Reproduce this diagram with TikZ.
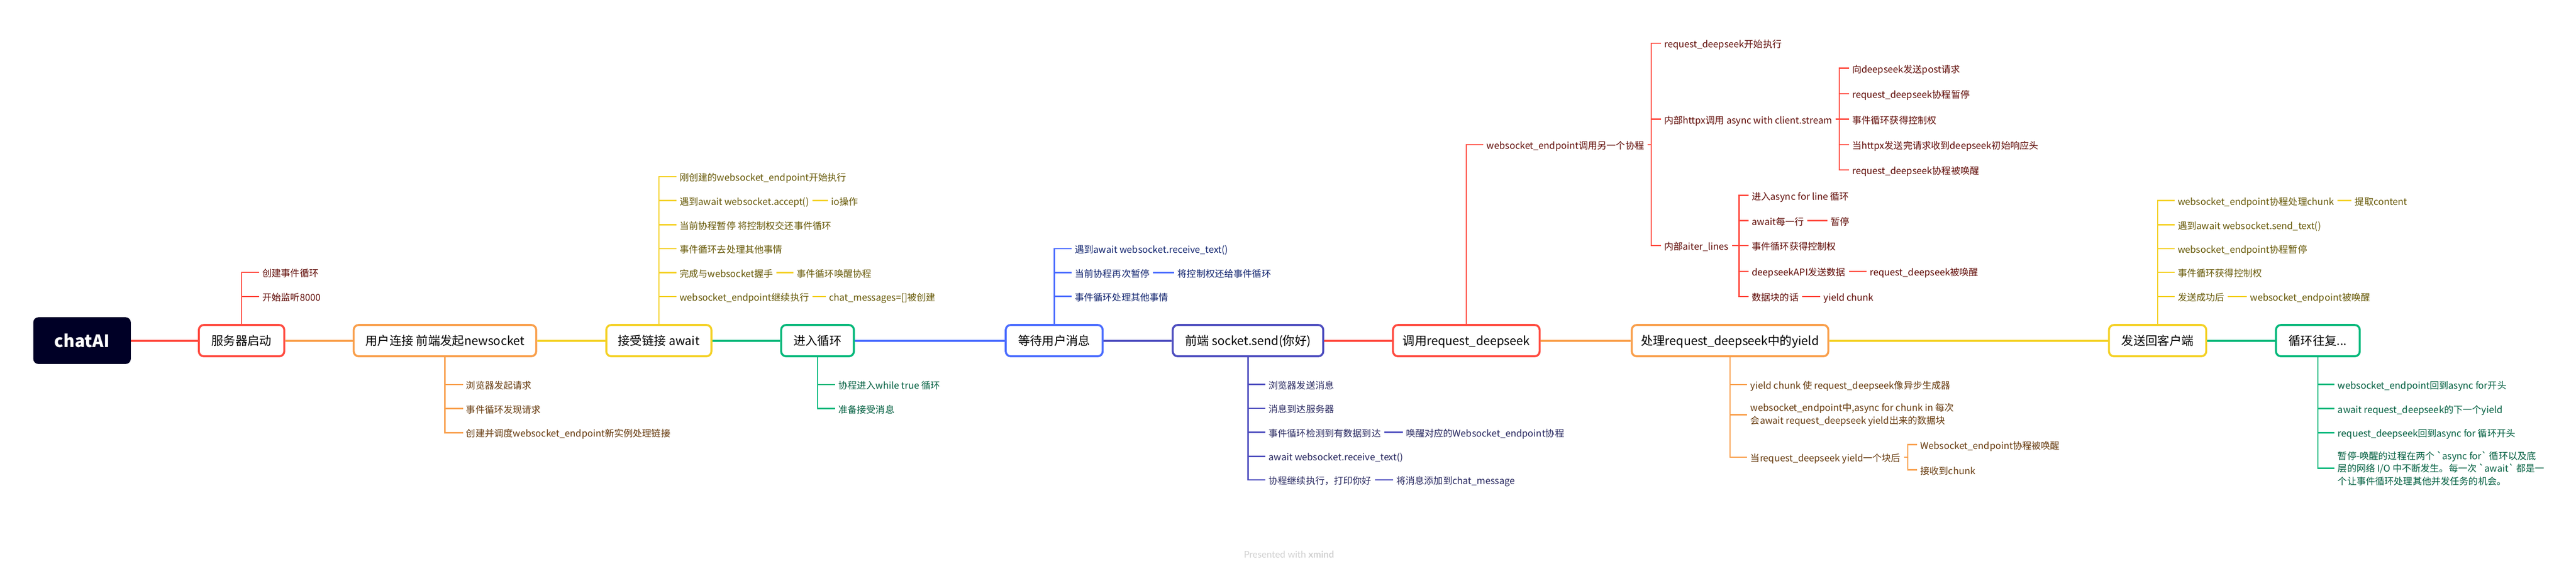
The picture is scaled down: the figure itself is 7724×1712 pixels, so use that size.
\documentclass[tikz,border=0pt]{standalone}
\usepackage{fontspec}
\setmainfont{Noto Sans CJK SC}[Ligatures=TeXOff]
\newfontfamily\creditfont{Lato}
\usetikzlibrary{positioning}
\definecolor{cred}{HTML}{FF4A3F}
\definecolor{corange}{HTML}{F99F4B}
\definecolor{cyellow}{HTML}{F4D125}
\definecolor{cgreen}{HTML}{00B87A}
\definecolor{cblue}{HTML}{4A6CFF}
\definecolor{cindigo}{HTML}{4D4DBF}
\definecolor{dred}{HTML}{5F0A05}
\definecolor{dorange}{HTML}{663A0D}
\definecolor{dyellow}{HTML}{665806}
\definecolor{dgreen}{HTML}{005E3F}
\definecolor{dblue}{HTML}{10236E}
\definecolor{dindigo}{HTML}{27275F}
\tikzset{
  rootbox/.style={fill=black!0!blue!15!black,rounded corners=0.15cm,minimum width=2.92cm,minimum height=1.4cm,
    outer sep=0pt,inner sep=0pt,text=white,font=\fontsize{14.5}{18}\selectfont\bfseries},
  topic/.style={draw=#1,fill=white,line width=0.06cm,rounded corners=0.15cm,minimum height=0.94cm,
    inner sep=0pt,text height=0.29cm,text depth=0cm,font=\fontsize{10.24}{12}\selectfont},
  note/.style={anchor=west,text=#1,inner xsep=0.1cm,inner ysep=0pt,outer sep=0pt,align=left,
    font=\fontsize{7.97}{10.8}\selectfont},
  leaf/.style={note=#1,text height=0.27cm,text depth=0cm},
  trunk/.style={color=#1,line width=0.06cm},
  twig/.style={color=#1,line width=0.04cm},
  elbow/.style={to path={|- (\tikztotarget.west)}}
}
\begin{document}
\begin{tikzpicture}[x=0.01cm,y=-0.01cm]
\useasboundingbox (0,0) rectangle (7724,1712);

\node[rootbox] (root) at (246,1022) {chatAI};
\node[topic=cred,minimum width=2.56cm] (n1) [right=2.01cm of root] {服务器启动};
\node[topic=corange,minimum width=5.47cm] (n2) [right=2.02cm of n1] {用户连接 前端发起newsocket};
\node[topic=cyellow,minimum width=3.15cm] (n3) [right=2.04cm of n2] {接受链接 await};
\node[topic=cgreen,minimum width=2.18cm] (n4) [right=2.03cm of n3] {进入循环};
\node[topic=cblue,minimum width=2.905cm] (n5) [right=4.49cm of n4] {等待用户消息};
\node[topic=cindigo,minimum width=4.51cm] (n6) [right=2.04cm of n5] {前端 socket.send(你好)};
\node[topic=cred,minimum width=4.395cm] (n7) [right=2.03cm of n6] {调用request\_deepseek};
\node[topic=corange,minimum width=5.89cm] (n8) [right=2.7cm of n7] {处理request\_deepseek中的yield};
\node[topic=cyellow,minimum width=2.915cm] (n9) [right=8.35cm of n8] {发送回客户端};
\node[topic=cgreen,minimum width=2.51cm] (n10) [right=2.03cm of n9] {循环往复...};

% server start
\node[leaf=dred] (n1a) at (777,817) {创建事件循环};
\node[leaf=dred] (n1b) at (777,890) {开始监听8000};

% user connect
\node[leaf=dorange] (n2a) at (1388,1154) {浏览器发起请求};
\node[leaf=dorange] (n2b) at (1388,1226) {事件循环发现请求};
\node[leaf=dorange] (n2c) at (1388,1298) {创建并调度websocket\_endpoint新实例处理链接};

% accept
\node[leaf=dyellow] (n3a) at (2028,530) {刚创建的websocket\_endpoint开始执行};
\node[leaf=dyellow] (n3b) at (2028,602) {遇到await websocket.accept()};
\node[leaf=dyellow] (n3c) at (2028,674) {当前协程暂停 将控制权交还事件循环};
\node[leaf=dyellow] (n3d) at (2028,746) {事件循环去处理其他事情};
\node[leaf=dyellow] (n3e) at (2028,818) {完成与websocket握手};
\node[leaf=dyellow] (n3f) at (2028,890) {websocket\_endpoint继续执行};
\node[leaf=dyellow] (n3b1) at (2483,602) {io操作};
\node[leaf=dyellow] (n3e1) at (2379,818) {事件循环唤醒协程};
\node[leaf=dyellow] (n3f1) at (2476,890) {chat\_messages=[]被创建};

% loop enter
\node[leaf=dgreen] (n4a) at (2504,1154) {协程进入while true 循环};
\node[leaf=dgreen] (n4b) at (2504,1226) {准备接受消息};

% waiting
\node[leaf=dblue] (n5a) at (3213,746) {遇到await websocket.receive\_text()};
\node[leaf=dblue] (n5b) at (3213,818) {当前协程再次暂停};
\node[leaf=dblue] (n5c) at (3213,889) {事件循环处理其他事情};
\node[leaf=dblue] (n5b1) at (3521,818) {将控制权还给事件循环};

% send
\node[leaf=dindigo] (n6a) at (3794,1153) {浏览器发送消息};
\node[leaf=dindigo] (n6b) at (3794,1225) {消息到达服务器};
\node[leaf=dindigo] (n6c) at (3794,1297) {事件循环检测到有数据到达};
\node[leaf=dindigo] (n6d) at (3794,1369) {await websocket.receive\_text()};
\node[leaf=dindigo] (n6e) at (3794,1440) {协程继续执行，打印你好};
\node[leaf=dindigo] (n6c1) at (4206,1297) {唤醒对应的Websocket\_endpoint协程};
\node[leaf=dindigo] (n6e1) at (4177,1440) {将消息添加到chat\_message};

% request
\node[leaf=dred] (n7a) at (4448,434) {websocket\_endpoint调用另一个协程};
\coordinate (n7hub) at (4951,434);
\node[leaf=dred] (n7a1) at (4980,130) {request\_deepseek开始执行};
\node[leaf=dred] (n7a2) at (4980,358) {内部httpx调用 async with client.stream};
\node[leaf=dred] (n7a3) at (4980,737) {内部aiter\_lines};
\coordinate (n7hub2) at (5515,358);
\node[leaf=dred] (n7b1) at (5544,205) {向deepseek发送post请求};
\node[leaf=dred] (n7b2) at (5544,281) {request\_deepseek协程暂停};
\node[leaf=dred] (n7b3) at (5544,358) {事件循环获得控制权};
\node[leaf=dred] (n7b4) at (5544,434) {当httpx发送完请求收到deepseek初始响应头};
\node[leaf=dred] (n7b5) at (5544,510) {request\_deepseek协程被唤醒};
\coordinate (n7hub3) at (5214,737);
\node[leaf=dred] (n7c1) at (5243,586) {进入async for line 循环};
\node[leaf=dred] (n7c2) at (5243,662) {await每一行};
\node[leaf=dred] (n7c3) at (5243,737) {事件循环获得控制权};
\node[leaf=dred] (n7c4) at (5243,814) {deepseekAPI发送数据};
\node[leaf=dred] (n7c5) at (5243,890) {数据块的话};
\node[leaf=dred] (n7c2a) at (5479,662) {暂停};
\node[leaf=dred] (n7c4a) at (5597,814) {request\_deepseek被唤醒};
\node[leaf=dred] (n7c5a) at (5458,890) {yield chunk};

% yield
\node[leaf=dorange] (n8a) at (5239,1154) {yield chunk 使 request\_deepseek像异步生成器};
\node[note=dorange] (n8b) at (5239,1244) {websocket\_endpoint中,async for chunk in 每次\\会await request\_deepseek yield出来的数据块};
\node[leaf=dorange] (n8c) at (5239,1372) {当request\_deepseek yield一个块后};
\coordinate (n8hub) at (5720,1372);
\node[leaf=dorange] (n8c1) at (5748,1334) {Websocket\_endpoint协程被唤醒};
\node[leaf=dorange] (n8c2) at (5748,1410) {接收到chunk};

% send back
\node[leaf=dyellow] (n9a) at (6520,602) {websocket\_endpoint协程处理chunk};
\node[leaf=dyellow] (n9b) at (6520,674) {遇到await websocket.send\_text()};
\node[leaf=dyellow] (n9c) at (6520,746) {websocket\_endpoint协程暂停};
\node[leaf=dyellow] (n9d) at (6520,817) {事件循环获得控制权};
\node[leaf=dyellow] (n9e) at (6520,890) {发送成功后};
\node[leaf=dyellow] (n9a1) at (7051,602) {提取content};
\node[leaf=dyellow] (n9e1) at (6737,890) {websocket\_endpoint被唤醒};

% again
\node[leaf=dgreen] (n10a) at (7000,1153) {websocket\_endpoint回到async for开头};
\node[leaf=dgreen] (n10b) at (7000,1226) {await request\_deepseek的下一个yield};
\node[leaf=dgreen] (n10c) at (7000,1298) {request\_deepseek回到async for 循环开头};
\node[note=dgreen] (n10d) at (7000,1405) {暂停-唤醒的过程在两个 `async for` 循环以及底\\层的网络 I/O 中不断发生。每一次 `await` 都是一\\个让事件循环处理其他并发任务的机会。};

\node[text=black!18,font=\creditfont\fontsize{8}{10}\selectfont] (mark) at (3865,1663) {Presented with \textbf{xmind}};

\path[trunk=cred] (root) edge (n1);
\path[trunk=corange] (n1) edge (n2);
\path[trunk=cyellow] (n2) edge (n3);
\path[trunk=cgreen] (n3) edge (n4);
\path[trunk=cblue] (n4) edge (n5);
\path[trunk=cindigo] (n5) edge (n6);
\path[trunk=cred] (n6) edge (n7);
\path[trunk=corange] (n7) edge (n8);
\path[trunk=cyellow] (n8) edge (n9);
\path[trunk=cgreen] (n9) edge (n10);

\path[twig=cred]
(n1.north) edge[elbow] (n1a)
           edge[elbow] (n1b);
\path[twig=corange]
(n2.south) edge[elbow] (n2a)
           edge[elbow] (n2b)
           edge[elbow] (n2c);
\path[twig=cyellow]
(n3.north) edge[elbow] (n3a)
           edge[elbow] (n3b)
           edge[elbow] (n3c)
           edge[elbow] (n3d)
           edge[elbow] (n3e)
           edge[elbow] (n3f)
(n3b) edge (n3b1)
(n3e) edge (n3e1)
(n3f) edge (n3f1);
\path[twig=cgreen]
(n4.south) edge[elbow] (n4a)
           edge[elbow] (n4b);
\path[twig=cblue]
(n5.north) edge[elbow] (n5a)
           edge[elbow] (n5b)
           edge[elbow] (n5c)
(n5b) edge (n5b1);
\path[twig=cindigo]
(n6.south) edge[elbow] (n6a)
           edge[elbow] (n6b)
           edge[elbow] (n6c)
           edge[elbow] (n6d)
           edge[elbow] (n6e)
(n6c) edge (n6c1)
(n6e) edge (n6e1);
\path[twig=cred]
(n7.north) edge[elbow] (n7a)
(n7a) edge (n7hub)
(n7hub) edge[elbow] (n7a1)
        edge[elbow] (n7a2)
        edge[elbow] (n7a3)
(n7a2) edge (n7hub2)
(n7hub2) edge[elbow] (n7b1)
         edge[elbow] (n7b2)
         edge[elbow] (n7b3)
         edge[elbow] (n7b4)
         edge[elbow] (n7b5)
(n7a3) edge (n7hub3)
(n7hub3) edge[elbow] (n7c1)
         edge[elbow] (n7c2)
         edge[elbow] (n7c3)
         edge[elbow] (n7c4)
         edge[elbow] (n7c5)
(n7c2) edge (n7c2a)
(n7c4) edge (n7c4a)
(n7c5) edge (n7c5a);
\path[twig=corange]
(n8.south) edge[elbow] (n8a)
           edge[elbow] (n8b)
           edge[elbow] (n8c)
(n8c) edge (n8hub)
(n8hub) edge[elbow] (n8c1)
        edge[elbow] (n8c2);
\path[twig=cyellow]
(n9.north) edge[elbow] (n9a)
           edge[elbow] (n9b)
           edge[elbow] (n9c)
           edge[elbow] (n9d)
           edge[elbow] (n9e)
(n9a) edge (n9a1)
(n9e) edge (n9e1);
\path[twig=cgreen]
(n10.south) edge[elbow] (n10a)
            edge[elbow] (n10b)
            edge[elbow] (n10c)
            edge[elbow] (n10d);
\end{tikzpicture}
\end{document}
